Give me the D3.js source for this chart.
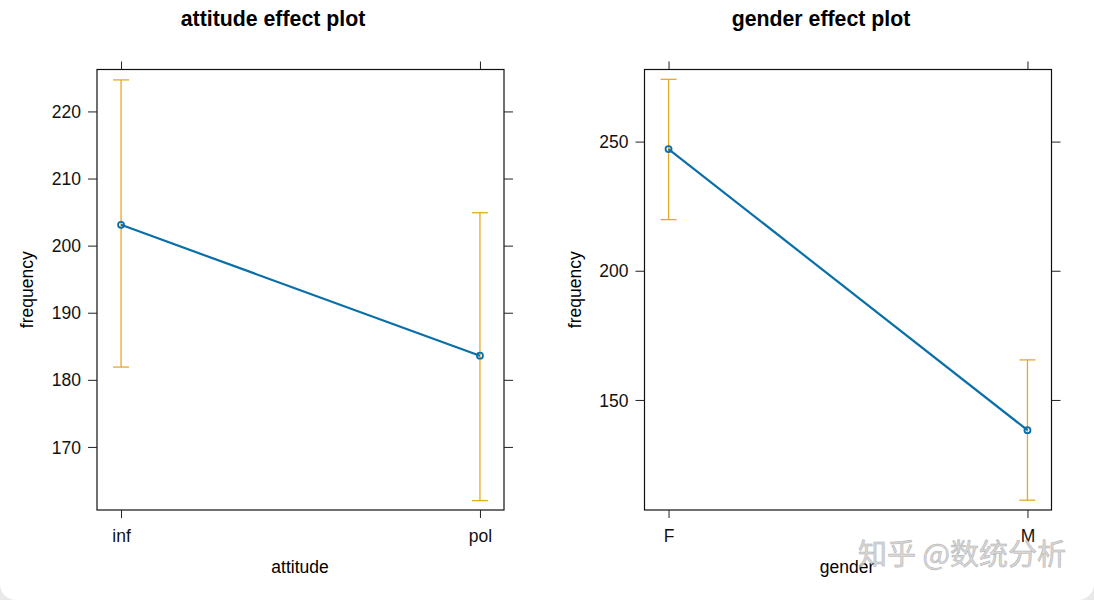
<!DOCTYPE html>
<html>
<head>
<meta charset="utf-8">
<script src="https://cdn.jsdelivr.net/npm/d3@7"></script>
<style>
  body { margin: 0; background: #e9e9e9; }
  svg { display: block; font-family: "Liberation Sans", Arial, sans-serif; }
</style>
</head>
<body>
<div id="chart"></div>
<script>
// effect estimates
const attitudeLevels = ["inf", "pol"];
const attitudeFit = [203.1, 183.6];
const attitudeLower = [181.9, 162.0];
const attitudeUpper = [224.7, 204.9];
const attitudeTicks = [170, 180, 190, 200, 210, 220];

const genderLevels = ["F", "M"];
const genderFit = [247.1, 138.3];
const genderLower = [219.8, 111.2];
const genderUpper = [274.1, 165.5];
const genderTicks = [150, 200, 250];

const W = 1094, H = 600;
const lineColor = "#0a6fa8", ciColor = "#e6a828";
const fs = "17.5px";

const svg = d3.select("#chart")
  .append("svg")
    .attr("width", W)
    .attr("height", H);

// white card with rounded bottom corners
svg.append("rect").attr("width", W).attr("height", H).attr("rx", 16).attr("fill", "#fff");
svg.append("rect").attr("width", W).attr("height", 100).attr("fill", "#fff");

function effectPanel(opt) {
  const {x0, x1, y0, y1, yDomain} = opt;
  const n = opt.levels.length;

  const x = d3.scaleLinear().domain([1 - 0.067, n + 0.067]).range([x0, x1]);
  const y = d3.scaleLinear().domain(yDomain).range([y1, y0]);

  const g = svg.append("g");

  g.append("text")
    .attr("x", opt.titleX).attr("y", 26)
    .attr("text-anchor", "middle")
    .style("font-size", "21.3px").style("font-weight", "bold")
    .text(opt.title);

  // box
  g.append("rect")
    .attr("x", x0).attr("y", y0)
    .attr("width", x1 - x0).attr("height", y1 - y0)
    .attr("fill", "none").attr("stroke", "#111").attr("stroke-width", 1.2);

  // axes
  const lvl = d3.range(1, n + 1);
  const bottom = g.append("g").attr("transform", `translate(0,${y1})`)
    .call(d3.axisBottom(x).tickValues(lvl).tickFormat(i => opt.levels[i - 1]).tickSize(8));
  const top = g.append("g").attr("transform", `translate(0,${y0})`)
    .call(d3.axisTop(x).tickValues(lvl).tickFormat("").tickSize(8));
  const left = g.append("g").attr("transform", `translate(${x0},0)`)
    .call(d3.axisLeft(y).tickValues(opt.ticks).tickFormat(d3.format("d")).tickSize(9).tickPadding(7));
  const right = g.append("g").attr("transform", `translate(${x1},0)`)
    .call(d3.axisRight(y).tickValues(opt.ticks).tickFormat("").tickSize(9));
  [bottom, top, left, right].forEach(a => {
    a.select(".domain").remove();
    a.selectAll(".tick line").attr("stroke", "#222");
    a.selectAll("text").style("font-size", fs).attr("fill", "#111")
      .style("font-family", "Liberation Sans, Arial, sans-serif");
  });
  left.selectAll("text").attr("dy", "0.35em");
  bottom.selectAll("text").attr("y", 541.5 - y1).attr("dy", 0);

  // axis labels
  g.append("text")
    .attr("x", opt.xLabelX).attr("y", 573)
    .attr("text-anchor", "middle").style("font-size", fs)
    .text(opt.xLabel);
  g.append("text")
    .attr("transform", `translate(${opt.yLabelX},${(y0 + y1) / 2}) rotate(-90)`)
    .attr("text-anchor", "middle").style("font-size", fs)
    .text("frequency");

  // confidence bars
  const ci = g.append("g").attr("stroke", ciColor).attr("stroke-width", 1.3).attr("fill", "none");
  opt.fit.forEach((f, i) => {
    const cx = x(i + 1);
    ci.append("line").attr("x1", cx).attr("x2", cx)
      .attr("y1", y(opt.lower[i])).attr("y2", y(opt.upper[i]));
    [opt.lower[i], opt.upper[i]].forEach(v => {
      ci.append("line").attr("x1", cx - 8).attr("x2", cx + 8)
        .attr("y1", y(v)).attr("y2", y(v));
    });
  });

  // fitted line and points
  g.append("path")
    .datum(opt.fit)
    .attr("fill", "none").attr("stroke", lineColor).attr("stroke-width", 2.2)
    .attr("d", d3.line().x((d, i) => x(i + 1)).y(d => y(d)));
  g.selectAll("circle.pt")
    .data(opt.fit)
    .join("circle")
    .attr("class", "pt")
    .attr("cx", (d, i) => x(i + 1)).attr("cy", d => y(d)).attr("r", 3)
    .attr("fill", "none").attr("stroke", lineColor).attr("stroke-width", 1.8);
}

effectPanel({
  title: "attitude effect plot", titleX: 273,
  levels: attitudeLevels, fit: attitudeFit, lower: attitudeLower, upper: attitudeUpper,
  ticks: attitudeTicks, yDomain: [160.6, 226.25],
  x0: 97, x1: 504, y0: 69.5, y1: 510,
  xLabel: "attitude", xLabelX: 300, yLabelX: 33
});

effectPanel({
  title: "gender effect plot", titleX: 821,
  levels: genderLevels, fit: genderFit, lower: genderLower, upper: genderUpper,
  ticks: genderTicks, yDomain: [107.4, 277.9],
  x0: 644.5, x1: 1051.5, y0: 69.5, y1: 510,
  xLabel: "gender", xLabelX: 847, yLabelX: 581
});

// watermark
svg.append("text")
  .attr("x", 1066).attr("y", 565)
  .attr("text-anchor", "end")
  .style("font-family", "Noto Sans CJK SC, sans-serif")
  .style("font-size", "29px")
  .attr("fill", "#d4d4d4").attr("stroke", "#a8a8a8").attr("stroke-width", 0.5)
  .attr("opacity", 0.9)
  .text("知乎 @数统分析");
</script>
</body>
</html>
